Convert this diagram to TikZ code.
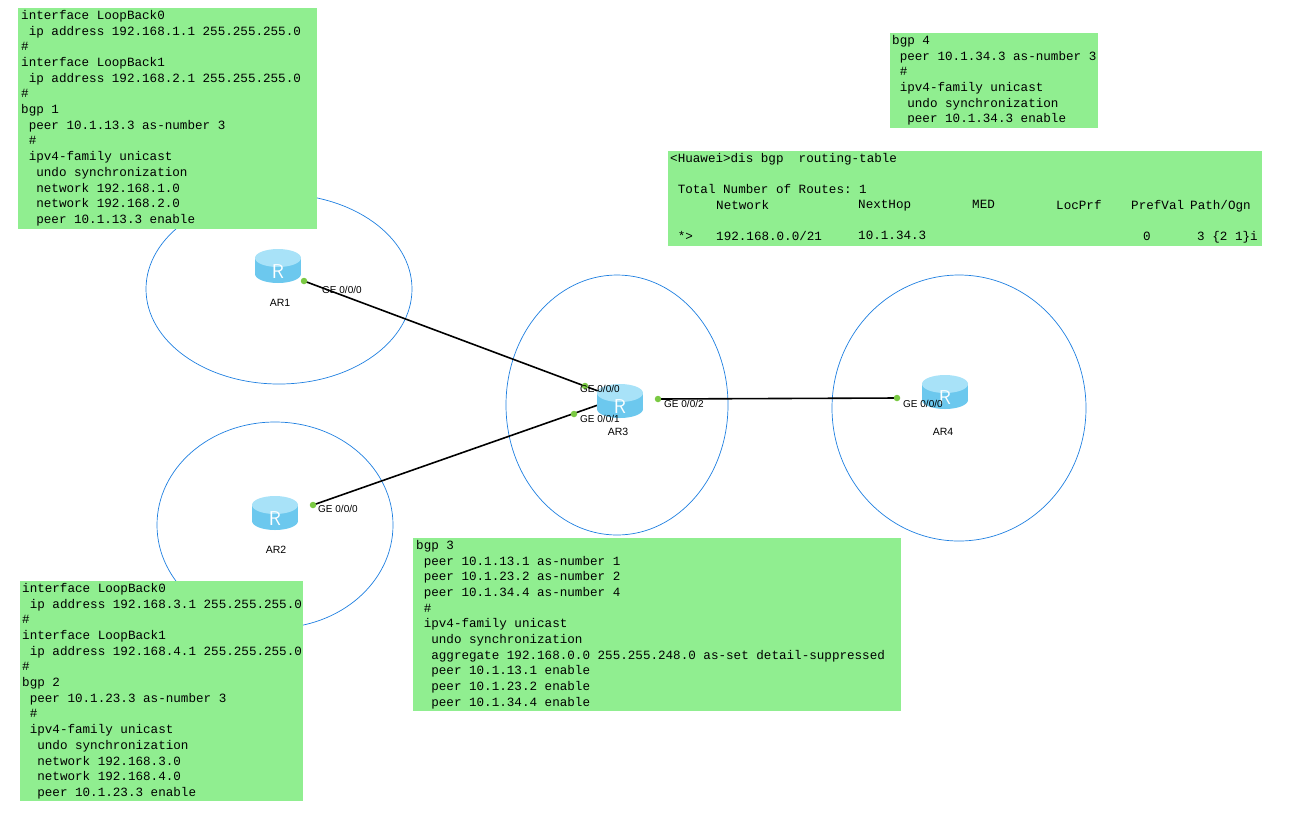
\documentclass[tikz,border=0pt]{standalone}
\usepackage{fontspec}
\setmainfont{Liberation Sans}
\setmonofont{Liberation Mono}
\begin{document}
\begin{tikzpicture}[x=1pt,y=-1pt,
 cfg/.style={fill=cfgc,draw=none,anchor=north west,inner sep=0pt,align=left,font=\ttfamily\fontsize{12.6}{15.7}\selectfont},
 as/.style={draw=asc,line width=0.7pt},
 lnk/.style={line width=1.6pt},
 dot/.style={circle,fill=dotc,inner sep=0pt,minimum size=6.5pt},
 pl/.style={font=\fontsize{10}{12}\selectfont,inner sep=0pt},
 rl/.style={font=\fontsize{10.5}{12}\selectfont,inner sep=0pt}]
\definecolor{cfgc}{HTML}{90EE90}
\definecolor{asc}{HTML}{1E7FE0}
\definecolor{dotc}{HTML}{7AC943}
\definecolor{rtop}{HTML}{A8E2F8}
\definecolor{rside}{HTML}{6CC8EE}
\useasboundingbox (0,0) rectangle (1298,823);
\tikzset{router/.pic={
  \fill[rside] (0,8) ellipse[x radius=23,y radius=9];
  \fill[rside] (-23,-8) rectangle (23,8);
  \fill[rtop] (0,-8) ellipse[x radius=23,y radius=9];
  \node[text=white,font=\sffamily\fontsize{20}{20}\selectfont] at (0,6) {R};
}}
% ellipses
\draw[as] (279,289) ellipse[x radius=133,y radius=95];
\draw[as] (275,525) ellipse[x radius=118,y radius=103];
\draw[as] (617,405) ellipse[x radius=111,y radius=130];
\draw[as] (959,408) ellipse[x radius=127,y radius=133];
% boxes
\fill[cfgc] (18,8) rectangle (317,229);
\node[cfg] (c1) at (21,10) {interface LoopBack0\\~ip address 192.168.1.1 255.255.255.0\\\#\\interface LoopBack1\\~ip address 192.168.2.1 255.255.255.0\\\#\\bgp 1\\~peer 10.1.13.3 as-number 3\\~\#\\~ipv4-family unicast\\~~undo synchronization\\~~network 192.168.1.0\\~~network 192.168.2.0\\~~peer 10.1.13.3 enable};
\fill[cfgc] (20,581) rectangle (303,801);
\node[cfg] (c2) at (22,583) {interface LoopBack0\\~ip address 192.168.3.1 255.255.255.0\\\#\\interface LoopBack1\\~ip address 192.168.4.1 255.255.255.0\\\#\\bgp 2\\~peer 10.1.23.3 as-number 3\\~\#\\~ipv4-family unicast\\~~undo synchronization\\~~network 192.168.3.0\\~~network 192.168.4.0\\~~peer 10.1.23.3 enable};
\fill[cfgc] (413,538) rectangle (901,711);
\node[cfg] (c3) at (416,540) {bgp 3\\~peer 10.1.13.1 as-number 1\\~peer 10.1.23.2 as-number 2\\~peer 10.1.34.4 as-number 4\\~\#\\~ipv4-family unicast\\~~undo synchronization\\~~aggregate 192.168.0.0 255.255.248.0 as-set detail-suppressed\\~~peer 10.1.13.1 enable\\~~peer 10.1.23.2 enable\\~~peer 10.1.34.4 enable};
\fill[cfgc] (890,33) rectangle (1098,128);
\node[cfg] (c4) at (892,35) {bgp 4\\~peer 10.1.34.3 as-number 3\\~\#\\~ipv4-family unicast\\~~undo synchronization\\~~peer 10.1.34.3 enable};
\fill[cfgc] (668,151) rectangle (1262,246);
\node[cfg] (c5) at (670,153) {<Huawei>dis bgp~~routing-table\\\\~Total Number of Routes: 1\\\\\\~*>};
\node[cfg] (t1) at (716,200) {Network\\\\192.168.0.0/21};
\node[cfg] (t2) at (858,200) {NextHop\\\\10.1.34.3};
\node[cfg] (t3) at (972,200) {MED};
\node[cfg] (t4) at (1056,200) {LocPrf};
\node[cfg] (t5) at (1131,200) {PrefVal};
\node[cfg] (t6) at (1190,200) {Path/Ogn};
\node[cfg] (v5) at (1143,231.4) {0};
\node[cfg] (v6) at (1197,231.4) {3 \{2 1\}i};
% links
\coordinate (p1) at (304,281);
\coordinate (p3a) at (585,386);
\coordinate (p2) at (313,505);
\coordinate (p3b) at (574,414);
\coordinate (p3c) at (658,399);
\coordinate (p4) at (897,398);
\draw[lnk] (p1) -- (598,391);
\draw[lnk] (p2) -- (598,405);
\draw[lnk] (p3c) -- (p4);
% routers
\pic at (278,266) {router};
\pic at (275,513) {router};
\pic at (620,401) {router};
\pic at (945,392) {router};
\node[dot] at (p1) {}; \node[dot] at (p3a) {}; \node[dot] at (p2) {}; \node[dot] at (p3b) {}; \node[dot] at (p3c) {}; \node[dot] at (p4) {};
\node[pl,anchor=west] (l1) at (322,290) {GE 0/0/0};
\node[pl,anchor=west] (l2) at (580,389) {GE 0/0/0};
\node[pl,anchor=west] (l3) at (580,419) {GE 0/0/1};
\node[pl,anchor=west] (l4) at (664,404) {GE 0/0/2};
\node[pl,anchor=west] (l5) at (318,509) {GE 0/0/0};
\node[pl,anchor=west] (l6) at (903,404) {GE 0/0/0};
\node[rl] (n1) at (280,303) {AR1};
\node[rl] (n2) at (276,550) {AR2};
\node[rl] (n3) at (618,432) {AR3};
\node[rl] (n4) at (943,432) {AR4};
\end{tikzpicture}
\end{document}
